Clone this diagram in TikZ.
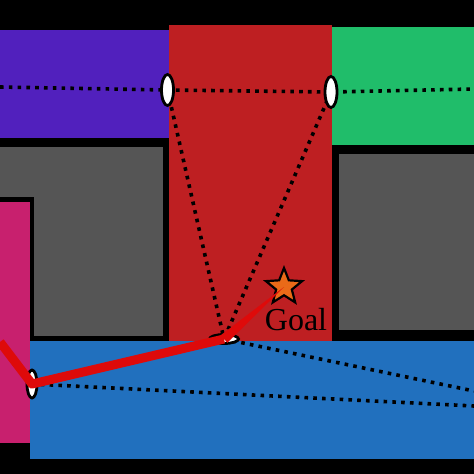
\documentclass[tikz,border=0pt]{standalone}
\usepackage{fontspec}
\setmainfont{Liberation Serif}
\usetikzlibrary{shapes.geometric,calc}
\definecolor{cpurple}{HTML}{5120BD}
\definecolor{cred}{HTML}{BE1F22}
\definecolor{cgreen}{HTML}{20BD6A}
\definecolor{cgray}{HTML}{555555}
\definecolor{cmag}{HTML}{C8206E}
\definecolor{cblue}{HTML}{2170BE}
\definecolor{corange}{HTML}{EA6A18}
\definecolor{cpath}{HTML}{DE0A0A}
\tikzset{
  portal/.style={ellipse, draw=black, fill=white, line width=2.8pt, inner sep=0pt},
  vport/.style={portal, minimum width=12pt, minimum height=31pt},
  hport/.style={portal, minimum width=29pt, minimum height=9pt},
  dots/.style={black, line width=3.6pt, dash pattern=on 3.6pt off 5.2pt},
  route/.style={cpath, line width=9pt, line join=round},
}
\begin{document}
\begin{tikzpicture}[x=1pt,y=-1pt]
\useasboundingbox (0,0) rectangle (474,474);
\fill[black] (0,0) rectangle (474,474);
% regions
\fill[cpurple] (0,30) rectangle (169,138);
\fill[cred] (169,25) rectangle (332,341);
\fill[cgreen] (332,27) rectangle (474,145);
\fill[cgray] (0,147) rectangle (163,336);
\fill[cgray] (339,154) rectangle (474,330);
\fill[black] (0,197) rectangle (34,443);
\fill[cmag] (0,202) rectangle (30,443);
\fill[cblue] (30,341) rectangle (474,459);
% free ends
\coordinate (hl) at (0,87);
\coordinate (hr) at (474,89);
\coordinate (r1) at (474,391);
\coordinate (r2) at (474,406);
\coordinate (rs) at (0,342);
% portal positions
\coordinate (p1) at (167.5,90);
\coordinate (p2) at (331,92);
\coordinate (p3) at (32,384);
\coordinate (p4) at (224,339);
% dotted sight lines
\draw[dots] (hl) -- (p1) -- (p2) -- (hr);
\draw[dots] (p1) -- (p4);
\draw[dots] (p2) -- (p4);
\draw[dots] (p4) -- (r1);
\draw[dots] (p3) -- (r2);
% portal nodes
\node[vport] (e1) at (p1) {};
\node[vport] (e2) at (p2) {};
\node[vport, minimum width=10pt, minimum height=28pt] (e3) at (p3) {};
\node[hport] (e4) at (p4) {};
% star
\node[star, star points=5, star point ratio=2.3, minimum size=38pt, inner sep=0pt,
      draw=black, line width=2.2pt, fill=corange] (goalstar) at (284,287) {};
\node[font=\fontsize{32}{32}\selectfont, anchor=base] (goal) at (296,330) {Goal};
% route
\draw[route] (rs) -- (e3.center) -- (e4.center);
\fill[cpath] ($(e4.center)!5pt!90:(goalstar.center)$) -- (goalstar.center)
   -- ($(e4.center)!5pt!-90:(goalstar.center)$) -- cycle;
\end{tikzpicture}
\end{document}
